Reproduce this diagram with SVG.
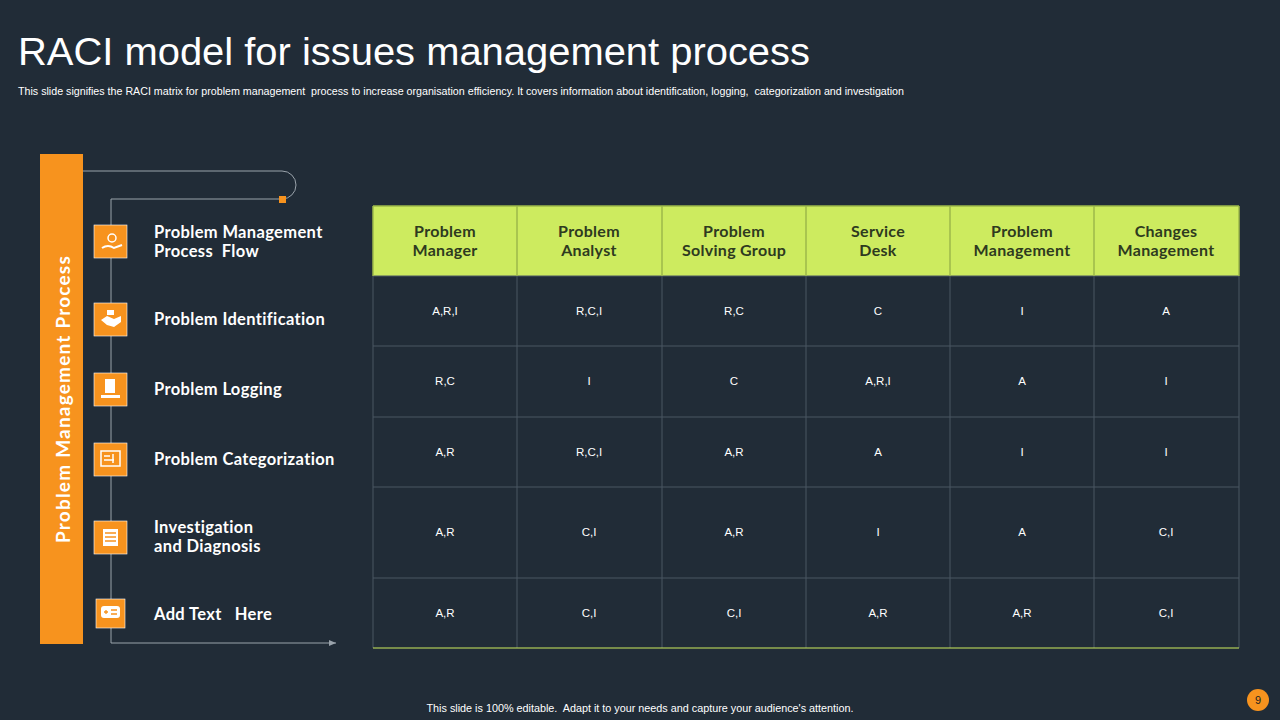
<svg xmlns="http://www.w3.org/2000/svg" width="1280" height="720" viewBox="0 0 1280 720">
<defs>
<style>
.t{font-family:"Liberation Sans",Arial,sans-serif}
.h{font-family:"Lato","Liberation Sans",sans-serif;font-weight:bold}
.lbl{font-family:"Lato","Liberation Sans",sans-serif;font-weight:bold;font-size:16.5px;fill:#fff;letter-spacing:0.35px}
.hd{font-family:"Lato","Liberation Sans",sans-serif;font-weight:bold;font-size:16px;fill:#2e3a20;text-anchor:middle;letter-spacing:0.3px}
.c{font-family:"Liberation Sans",Arial,sans-serif;font-size:11.5px;fill:#fff;text-anchor:middle}
.ic{fill:#f7931e;stroke:#fff;stroke-width:0.6}
.g{stroke:#4b5762;stroke-width:1}
</style>
<marker id="ar" markerWidth="8" markerHeight="8" refX="7" refY="4" orient="auto"><path d="M0,1 L7,4 L0,7 z" fill="#9aa3ab"/></marker>
</defs>
<rect width="1280" height="720" fill="#212c37"/>
<text x="18" y="65" class="t" font-size="38" fill="#fff" textLength="792" lengthAdjust="spacingAndGlyphs">RACI model for issues management process</text>
<text x="18" y="95" class="t" font-size="10" fill="#fff" textLength="886" lengthAdjust="spacingAndGlyphs" xml:space="preserve">This slide signifies the RACI matrix for problem management  process to increase organisation efficiency. It covers information about identification, logging,  categorization and investigation</text>
<g id="sidebar">
<rect x="40" y="154" width="43" height="490" fill="#f7931e"/>
<text transform="translate(70,399) rotate(-90)" class="h" font-size="19" fill="#fff" text-anchor="middle" letter-spacing="1.2">Problem Management Process</text>
</g>
<g id="connectors" fill="none" stroke="#9aa3ab" stroke-width="1">
<path d="M83,171 H282 A14,14 0 0 1 282,199 H111 V643 H336" marker-end="url(#ar)"/>
</g>
<rect x="279" y="196" width="7" height="7" fill="#f7931e"/>
<g id="n1"><rect x="94" y="225" width="33" height="33" class="ic"/><circle cx="112" cy="238" r="4" fill="none" stroke="#fff" stroke-width="1.5"/><path d="M102,248 q6,-4 12,0 l8,-3" stroke="#fff" stroke-width="2" fill="none"/><text x="154" y="238" class="lbl">Problem Management</text><text x="154" y="257" class="lbl" xml:space="preserve">Process  Flow</text></g>
<g id="n2"><rect x="94" y="303" width="33" height="33" class="ic"/><path d="M101,320 l6,-4 l7,3 l7,-3 l0,6 l-7,5 l-7,-2 z" fill="#fff"/><rect x="107" y="310" width="7" height="5" fill="#fff"/><text x="154" y="325" class="lbl">Problem Identification</text></g>
<g id="n3"><rect x="94" y="373" width="33" height="33" class="ic"/><rect x="105" y="379" width="10" height="14" fill="#fff"/><rect x="101" y="395" width="19" height="3" fill="#fff"/><text x="154" y="395" class="lbl">Problem Logging</text></g>
<g id="n4"><rect x="94" y="443" width="33" height="33" class="ic"/><rect x="101" y="451" width="19" height="15" fill="none" stroke="#fff" stroke-width="1.5"/><path d="M104,456 h6 M104,460 h10 M113,454 v9" stroke="#fff" stroke-width="1.5"/><text x="154" y="465" class="lbl">Problem Categorization</text></g>
<g id="n5"><rect x="94" y="521" width="33" height="33" class="ic"/><rect x="103" y="529" width="15" height="17" fill="#fff"/><path d="M105,533 h11 M105,537 h11 M105,541 h11" stroke="#f7931e" stroke-width="1.5"/><text x="154" y="533" class="lbl">Investigation</text><text x="154" y="552" class="lbl">and Diagnosis</text></g>
<g id="n6"><rect x="96" y="599" width="29" height="29" class="ic"/><rect x="101" y="606" width="19" height="12" rx="3" fill="#fff"/><path d="M104,612 h4 M106,610 v4 M111,610 h6 M111,614 h6" stroke="#f7931e" stroke-width="1.3"/><text x="154" y="620" class="lbl" xml:space="preserve">Add Text   Here</text></g>
<g id="table">
<rect x="373" y="206" width="866" height="70" fill="#cdeb5f"/>
<g class="g">
<line x1="373" y1="276" x2="1239" y2="276"/><line x1="373" y1="346" x2="1239" y2="346"/><line x1="373" y1="417" x2="1239" y2="417"/><line x1="373" y1="487" x2="1239" y2="487"/><line x1="373" y1="578" x2="1239" y2="578"/>
<line x1="373" y1="276" x2="373" y2="648"/><line x1="517" y1="276" x2="517" y2="648"/><line x1="662" y1="276" x2="662" y2="648"/><line x1="806" y1="276" x2="806" y2="648"/><line x1="950" y1="276" x2="950" y2="648"/><line x1="1094" y1="276" x2="1094" y2="648"/><line x1="1239" y1="276" x2="1239" y2="648"/>
</g>
<g stroke="#9cb84a" stroke-width="1.5"><line x1="373" y1="206" x2="1239" y2="206"/><line x1="373" y1="206" x2="373" y2="276"/><line x1="517" y1="206" x2="517" y2="276"/><line x1="662" y1="206" x2="662" y2="276"/><line x1="806" y1="206" x2="806" y2="276"/><line x1="950" y1="206" x2="950" y2="276"/><line x1="1094" y1="206" x2="1094" y2="276"/><line x1="1239" y1="206" x2="1239" y2="276"/></g>
<line x1="373" y1="648" x2="1239" y2="648" stroke="#cdeb5f" stroke-width="1.2"/>
<text class="hd"><tspan x="445" y="237">Problem</tspan><tspan x="445" y="256">Manager</tspan></text>
<text class="hd"><tspan x="589" y="237">Problem</tspan><tspan x="589" y="256">Analyst</tspan></text>
<text class="hd"><tspan x="734" y="237">Problem</tspan><tspan x="734" y="256">Solving Group</tspan></text>
<text class="hd"><tspan x="878" y="237">Service</tspan><tspan x="878" y="256">Desk</tspan></text>
<text class="hd"><tspan x="1022" y="237">Problem</tspan><tspan x="1022" y="256">Management</tspan></text>
<text class="hd"><tspan x="1166" y="237">Changes</tspan><tspan x="1166" y="256">Management</tspan></text>
<text class="c" y="315"><tspan x="445">A,R,I</tspan><tspan x="589">R,C,I</tspan><tspan x="734">R,C</tspan><tspan x="878">C</tspan><tspan x="1022">I</tspan><tspan x="1166">A</tspan></text>
<text class="c" y="385"><tspan x="445">R,C</tspan><tspan x="589">I</tspan><tspan x="734">C</tspan><tspan x="878">A,R,I</tspan><tspan x="1022">A</tspan><tspan x="1166">I</tspan></text>
<text class="c" y="456"><tspan x="445">A,R</tspan><tspan x="589">R,C,I</tspan><tspan x="734">A,R</tspan><tspan x="878">A</tspan><tspan x="1022">I</tspan><tspan x="1166">I</tspan></text>
<text class="c" y="536"><tspan x="445">A,R</tspan><tspan x="589">C,I</tspan><tspan x="734">A,R</tspan><tspan x="878">I</tspan><tspan x="1022">A</tspan><tspan x="1166">C,I</tspan></text>
<text class="c" y="617"><tspan x="445">A,R</tspan><tspan x="589">C,I</tspan><tspan x="734">C,I</tspan><tspan x="878">A,R</tspan><tspan x="1022">A,R</tspan><tspan x="1166">C,I</tspan></text>
</g>
<text x="640" y="712" class="t" font-size="10.8" fill="#fff" text-anchor="middle" xml:space="preserve">This slide is 100% editable.  Adapt it to your needs and capture your audience's attention.</text>
<circle cx="1258" cy="700" r="11" fill="#f7931e"/>
<text x="1258" y="704" class="t" font-size="11" fill="#222" text-anchor="middle">9</text>
</svg>
